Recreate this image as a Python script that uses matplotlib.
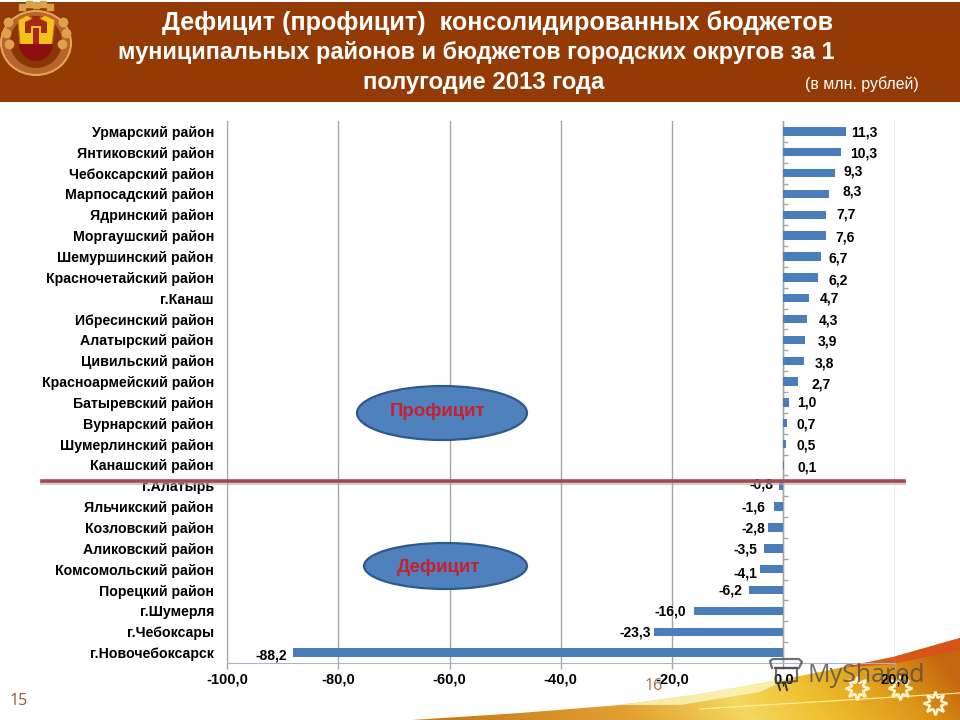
import numpy as np
import matplotlib
matplotlib.use('Agg')
import matplotlib.pyplot as plt
from matplotlib.colors import LinearSegmentedColormap
from matplotlib.patches import Ellipse, Polygon, Rectangle, Wedge

plt.rcParams['font.family'] = ['Liberation Sans', 'DejaVu Sans']

districts = ['Урмарский район', 'Янтиковский район', 'Чебоксарский район',
             'Марпосадский район', 'Ядринский район', 'Моргаушский район',
             'Шемуршинский район', 'Красночетайский район', 'г.Канаш',
             'Ибресинский район', 'Алатырский район', 'Цивильский район',
             'Красноармейский район', 'Батыревский район', 'Вурнарский район',
             'Шумерлинский район', 'Канашский район', 'г.Алатырь',
             'Яльчикский район', 'Козловский район', 'Аликовский район',
             'Комсомольский район', 'Порецкий район', 'г.Шумерля',
             'г.Чебоксары', 'г.Новочебоксарск']
balance = [11.3, 10.3, 9.3, 8.3, 7.7, 7.6, 6.7, 6.2, 4.7, 4.3, 3.9, 3.8, 2.7,
           1.0, 0.7, 0.5, 0.1, -0.8, -1.6, -2.8, -3.5, -4.1, -6.2, -16.0,
           -23.3, -88.2]
# hand placed labels in the original: shift from the bar end, in pixels
label_dx = [18, 23, 18, 23, 20, 20, 18, 20, 20, 21, 22, 20, 23, 18, 19, 20, 23,
            -17, -21, -14, -18, -15, -18, -24, -18, -21]
label_dy = [-1, -1, 2, 2, 0, -2, -2, -3, 0, -1, -2, -3, -3, 0, -1, -1, -3,
            1, -1, -1, -1, -4, 0, -1, -1, -3]
x_ticks = [-100, -80, -60, -40, -20, 0, 20]


def comma(v):
    return f'{v:.1f}'.replace('.', ',')


def draw_emblem(bg):
    bg.add_patch(Ellipse((36, 43), 70, 64, fc='#b5652a', ec='#e6a35a', lw=1.5))
    bg.add_patch(Ellipse((36, 42), 52, 52, fc='#8a3506', ec='none'))
    # crown and wreath
    bg.plot([22, 29, 36, 43, 50], [7, 4, 5, 4, 7], 's', ms=5, color='#d9a24a')
    bg.plot([8, 6, 9, 63, 66, 62], [22, 33, 44, 22, 33, 44], 'o', ms=6,
            color='#e0a04c')
    # shield
    bg.add_patch(Polygon([(18, 20), (27, 15), (36, 21), (45, 15), (55, 20),
                          (52, 45), (20, 45)], fc='#f2c21a', ec='#c8641e', lw=0.8))
    bg.add_patch(Rectangle((33, 28), 6, 17, fc='#a5281a', ec='none'))
    bg.add_patch(Polygon([(25, 22), (36, 17), (47, 22), (47, 33), (41, 33),
                          (41, 26), (31, 26), (31, 33), (25, 33)],
                         fc='#a5281a', ec='none'))
    bg.add_patch(Wedge((36, 44), 17, 0, 180, fc='#8c1010', ec='none'))


def draw_swoosh(bg):
    edge = [(412, 720), (520, 713), (620, 705), (700, 694), (790, 678),
            (893, 657), (960, 638), (960, 720)]
    cmap = LinearSegmentedColormap.from_list(
        'gold', [(0, '#c87a20'), (0.34, '#e2a030'), (0.56, '#f4d860'),
                 (0.7, '#efc030'), (0.88, '#dc9618'), (1, '#c4660f')])
    xx, yy = np.meshgrid(np.linspace(0, 1, 300), np.linspace(0, 1, 80))
    img = bg.imshow(xx - 0.12*yy + 0.06, cmap=cmap, vmin=0, vmax=1,
                    extent=(412, 960, 720, 638), aspect='auto', zorder=1)
    clip = Polygon(edge, transform=bg.transData, fc='none', ec='none')
    bg.add_patch(clip)
    img.set_clip_path(clip)
    bg.add_patch(Polygon([(620, 705), (700, 694), (790, 678), (760, 692),
                          (680, 705)], fc='#fdf6c0', ec='none', alpha=0.8,
                         zorder=2))
    bg.add_patch(Polygon([(840, 668), (893, 657), (960, 638), (960, 650),
                          (893, 664)], fc='#d9501a', ec='none', alpha=0.8,
                         zorder=2))
    bg.plot([700, 830, 960], [709, 701, 693], color='#fff2a0', lw=0.8, zorder=2)
    bg.plot([857, 900, 935], [688, 688, 703], ls='none', marker=(8, 1, 0),
            ms=17, mfc='none', mec='#fff6cc', mew=1.8, zorder=3)


def draw_background(fig):
    # pixel coordinates of the slide, y going down
    bg = fig.add_axes([0, 0, 1, 1], zorder=0)
    bg.add_patch(Rectangle((0, 2), 960, 100, fc='#943a04', ec='none'))
    draw_swoosh(bg)
    draw_emblem(bg)
    bg.set_xlim(0, 960)
    bg.set_ylim(720, 0)
    bg.axis('off')


def draw_chart(fig):
    left, right, top, bottom = 227, 894.5, 121, 663
    ax = fig.add_axes([left/960, 1 - bottom/720, (right - left)/960,
                       (bottom - top)/720], zorder=1)
    ax.patch.set_alpha(0)
    y = np.arange(len(districts))
    ax.barh(y, balance, height=0.4, color='#4a7ebb', zorder=3)
    ax.set_xlim(-100, 20)
    ax.set_ylim(len(districts) - 0.5, -0.5)

    ax.set_xticks(x_ticks, [comma(t) for t in x_ticks], fontsize=10.5,
                  fontweight='bold')
    ax.set_yticks(y, districts, fontsize=10.2, fontweight='bold')
    ax.tick_params(axis='y', length=0, pad=9.4, colors='black')
    ax.tick_params(axis='x', length=4, width=1, color='#a6a6a6', pad=3,
                   labelcolor='black')
    ax.grid(axis='x', color='#a6a6a6', lw=1, zorder=1)
    for name in ('top', 'right'):
        ax.spines[name].set_visible(False)
    ax.spines['left'].set_color('#a6a6a6')
    ax.spines['bottom'].set_color('#a8b8cc')

    # category axis crosses at zero, ticks between the categories
    ax.axvline(0, color='#a6a6a6', lw=1, zorder=2)
    ax.hlines(y[:-1] + 0.5, 0, 0.8, color='#a6a6a6', lw=1, zorder=2)

    for i, v in enumerate(balance):
        ax.annotate(comma(v), (v, i), xytext=(label_dx[i], label_dy[i]),
                    textcoords='offset pixels', ha='center', va='center',
                    fontsize=10, fontweight='bold', zorder=6)


def draw_watermark(top):
    top.text(808, 676, 'MyShared', color='#4d4d4d', alpha=0.8, fontsize=18,
             ha='left', va='center', family='Open Sans')
    for xs, ys in [([772, 770, 773, 799, 802, 799, 775],
                    [668, 661, 659, 659, 662, 668, 668]),
                   ([776, 776, 797, 797, 776], [668, 683, 681, 668, 668])]:
        top.plot(xs, ys, color='#4d4d4d', lw=1.6, alpha=0.8)
    top.plot([778, 780], [683, 690], color='#333333', lw=1.4)
    top.plot([785, 787], [683, 690], color='#333333', lw=1.4)


def draw_overlay(fig):
    top = fig.add_axes([0, 0, 1, 1], zorder=2)
    white = dict(color='white', fontweight='bold', ha='center', va='center')
    top.text(498, 23, 'Дефицит (профицит)  консолидированных бюджетов',
             fontsize=18.1, **white)
    top.text(476, 53, 'муниципальных районов и бюджетов городских округов за 1',
             fontsize=16.9, **white)
    top.text(484, 82, 'полугодие 2013 года', fontsize=17.2, **white)
    top.text(862, 84, '(в млн. рублей)', color='white', fontsize=11.4,
             ha='center', va='center')

    # profit / deficit divider
    top.plot([42, 904], [483, 483], color='#b0b0b0', lw=3, alpha=0.6)
    top.plot([42, 904], [481, 481], color='#a34a50', lw=2.6)

    for cx, cy, w, h, name, tx, ty in [
            (442, 413, 170, 54, 'Профицит', 438, 412),
            (445.5, 566, 163, 46, 'Дефицит', 439, 568)]:
        top.add_patch(Ellipse((cx, cy), w, h, fc='#4f81bd', ec='#2d5a8e', lw=1.6))
        top.text(tx, ty, name, color='#c8202f', fontsize=13.4,
                 fontweight='bold', ha='center', va='center')

    top.text(19, 701, '15', color='#8a5a30', fontsize=11.5, ha='center',
             va='center', family='Open Sans')
    top.text(654, 686, '16', color='#a8683c', fontsize=11.5, ha='center',
             va='center', family='Open Sans')
    draw_watermark(top)
    top.set_xlim(0, 960)
    top.set_ylim(720, 0)
    top.axis('off')


def main():
    fig = plt.figure(figsize=(9.6, 7.2), dpi=100, facecolor='white')
    draw_background(fig)
    draw_chart(fig)
    draw_overlay(fig)
    fig.savefig('out.png', dpi=100)


if __name__ == '__main__':
    main()
